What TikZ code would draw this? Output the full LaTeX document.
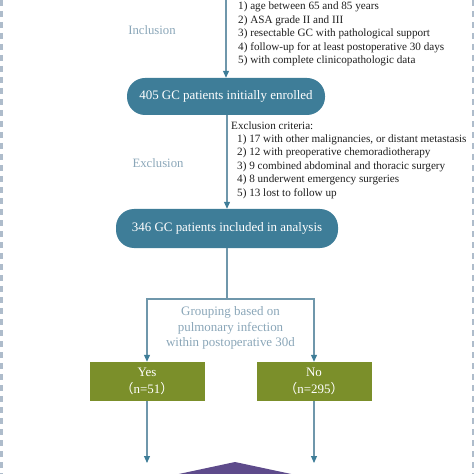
\documentclass[tikz,border=0pt]{standalone}
\usepackage{fontspec}
\setmainfont{Liberation Serif}
\newfontfamily\cjk{Noto Sans CJK SC}
\usetikzlibrary{arrows.meta}
\definecolor{boxblue}{HTML}{3E7D98}
\definecolor{lineblue}{HTML}{6F97AB}
\definecolor{olive}{HTML}{7B8F2A}
\definecolor{labelblue}{HTML}{8AA6B8}
\definecolor{txtgrey}{HTML}{1E1E1E}
\definecolor{purp}{HTML}{5E4B8B}
\definecolor{borderc}{HTML}{AEBCCB}
\tikzset{
  pill/.style={fill=boxblue, text=white, rounded corners=18bp, inner sep=0pt,
    font=\fontsize{13}{15}\selectfont},
  grpbox/.style={fill=olive, text=white, inner sep=0pt, align=center,
    minimum width=115bp, minimum height=39bp, font=\fontsize{13}{17}\selectfont},
  crit/.style={text=txtgrey, align=left, inner sep=0pt, anchor=west,
    font=\fontsize{11.2}{13.5}\selectfont},
  side/.style={text=labelblue, inner sep=0pt, font=\fontsize{12.8}{15}\selectfont},
  conn/.style={draw=lineblue, line width=1.1bp},
  arr/.style={conn, -{Triangle[length=7bp,width=6bp,fill=boxblue,color=boxblue]}},
  frame/.style={draw=borderc, line width=2bp, dash pattern=on 6bp off 5bp}
}
\begin{document}
\begin{tikzpicture}[x=1bp,y=-1bp]
\useasboundingbox (0,0) rectangle (474,474);
\clip (0,0) rectangle (474,474);
% dashed frame edges
\draw[frame] (1.5,0) -- (1.5,474);
\draw[frame] (472.5,0) -- (472.5,474);
% nodes
\coordinate (top) at (226,0);
\node[pill, minimum width=198bp, minimum height=37bp] (b1) at (226,96.5) {405 GC patients initially enrolled};
\node[pill, minimum width=222bp, minimum height=39bp] (b2) at (227,228.5) {346 GC patients included in analysis};
\node[crit] (inc) at (238,34) {1) age between 65 and 85 years\\2) ASA grade II and III\\3) resectable GC with pathological support\\4) follow-up for at least postoperative 30 days\\5) with complete clinicopathologic data};
\node[crit] (exc) at (231,160) {Exclusion criteria:\\\hspace*{6bp}1) 17 with other malignancies, or distant metastasis\\\hspace*{6bp}2) 12 with preoperative chemoradiotherapy\\\hspace*{6bp}3) 9 combined abdominal and thoracic surgery\\\hspace*{6bp}4) 8 underwent emergency surgeries\\\hspace*{6bp}5) 13 lost to follow up};
\node[side] (incl) at (152,30) {Inclusion};
\node[side] (excl) at (158,163) {Exclusion};
\coordinate (gm) at (227,299);
\coordinate (gl) at (147,299);
\coordinate (gr) at (314,299);
\node[text=labelblue, align=center, inner sep=0pt, font=\fontsize{13}{15.5}\selectfont] (grp) at (230.5,328) {Grouping based on\\pulmonary infection\\within postoperative 30d};
\node[grpbox] (yes) at (147,381.5) {Yes\\{\cjk （}n=51{\cjk ）}};
\node[grpbox] (no) at (314,381.5) {No\\{\cjk （}n=295{\cjk ）}};
\coordinate (ye) at (147,463);
\coordinate (ne) at (314,463);
% connectors
\draw[arr] (top) -- (b1.north);
\draw[arr] (b1.south -| b2.north) -- (b2.north);
\draw[conn] (b2.south) -- (gm);
\draw[arr] (gm) -- (gl) -- (yes.north);
\draw[arr] (gm) -- (gr) -- (no.north);
\draw[arr] (yes.south) -- (ye);
\draw[arr] (no.south) -- (ne);
% purple shape at bottom
\fill[purp] (160,478) -- (235,462) -- (310,478) -- cycle;
\end{tikzpicture}
\end{document}
